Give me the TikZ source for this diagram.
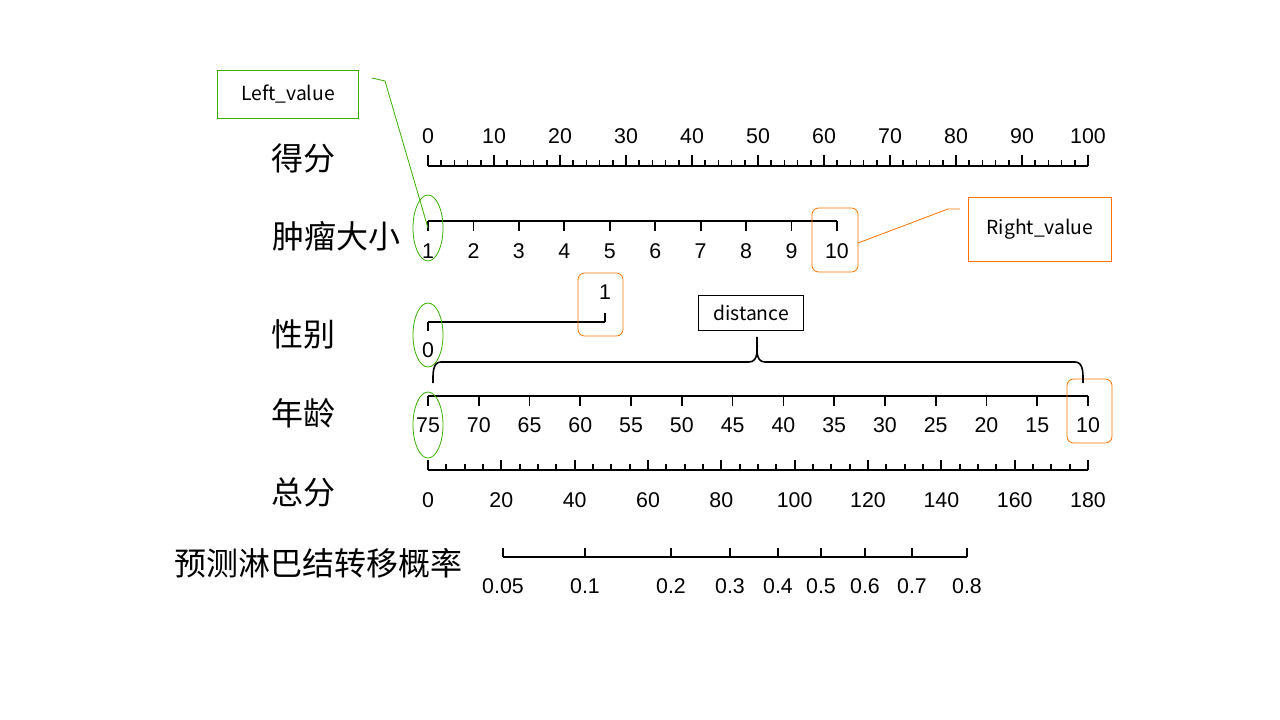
\documentclass[tikz,border=0pt]{standalone}
\usepackage{fontspec}
\setmainfont{Liberation Sans}
\newfontfamily\cjk{Noto Sans CJK SC}
\newfontfamily\cjkm{Noto Sans CJK SC Medium}
\begin{document}
\begin{tikzpicture}[x=0.75pt,y=-0.75pt,line width=1.3pt,
  lab/.style={font=\cjk\fontsize{24}{26}\selectfont},
  num/.style={font=\fontsize{16}{17}\selectfont},
  ann/.style={draw,line width=0.6pt,minimum height=36pt,font=\cjk\fontsize{14.5}{15}\selectfont},
  grn/.style={draw=green!55!black!70!lime,line width=0.6pt},
  org/.style={draw=orange!90!red,line width=0.6pt,rounded corners=5pt}]
\useasboundingbox (0,0) rectangle (1280,720);
% labels
\node[lab] (l1) at (303,158) {得分};
\node[lab] (l2) at (336,236) {肿瘤大小};
\node[lab] (l3) at (303,334) {性别};
\node[lab] (l4) at (303,413) {年龄};
\node[lab] (l5) at (303,492) {总分};
\node[lab] (l6) at (318,563) {预测淋巴结转移概率};
% points
\draw (428,166) -- (1088,166);
\foreach \i in {0,...,50} \draw (428+13.2*\i,166) -- (428+13.2*\i,160);
\foreach \v in {0,10,...,100} {\draw (428+6.6*\v,166) -- (428+6.6*\v,155);
  \node[num] at (428+6.6*\v,136) {\v};}
% tumor size
\draw (428,221) -- (837,221);
\foreach \v in {1,...,10} {\draw (428+45.44*\v-45.44,221) -- (428+45.44*\v-45.44,231);
  \node[num] at (428+45.44*\v-45.44,251) {\v};}
% gender
\draw (428,322) -- (605,322);
\draw (428,322) -- (428,331); \draw (605,322) -- (605,313);
\node[num] at (428,350) {0};
\node[num] at (605,292) {1};
% age
\draw (428,396) -- (1088,396);
\foreach \i [evaluate=\i as \v using int(75-5*\i)] in {0,...,13} {\draw (428+50.77*\i,396) -- (428+50.77*\i,406);
  \node[num] at (428+50.77*\i,425) {\v};}
% total
\draw (428,470) -- (1088,470);
\foreach \i in {0,...,36} \draw (428+18.333*\i,470) -- (428+18.333*\i,464);
\foreach \v in {0,20,...,180} {\draw (428+3.6667*\v,470) -- (428+3.6667*\v,460);
  \node[num] at (428+3.6667*\v,500) {\v};}
% probability
\draw (503,557) -- (967,557);
\foreach \x/\t in {503/0.05,585/0.1,671/0.2,730/0.3,778/0.4,821/0.5,865/0.6,912/0.7,967/0.8} {
  \draw (\x,557) -- (\x,548); \node[num] at (\x,586) {\t};}
% annotations
\node[ann,grn,minimum width=106pt] (lv) at (288,94) {Left\_value};
\node[ann,draw=orange!90!red,minimum width=107pt,minimum height=48pt] (rv) at (1040,229) {Right\_value};
\node[ann,minimum width=79pt,minimum height=26pt] (dist) at (751,313) {distance};
\draw[grn] (428,228) ellipse (15 and 33);
\draw[grn] (428,335) ellipse (15 and 32);
\draw[grn] (428,425) ellipse (15 and 33);
\coordinate (e1) at (428,228);
\draw[grn] (372,78) -- (385,81) -- (e1);
\draw[org] (812,208) rectangle (858,272);
\draw[org] (578,273) rectangle (623,336);
\draw[org] (1067,379) rectangle (1112,443);
\coordinate (r1) at (858,243);
\draw[draw=orange!90!red,line width=0.6pt] (r1) -- (948,209) -- (960,209);
% brace
\draw[line width=1.2pt] (433,383) to[out=90,in=180] (441,362) -- (749,362) to[out=0,in=-90] (757,337)
  to[out=-90,in=180] (765,362) -- (1075,362) to[out=0,in=90] (1083,383);
\end{tikzpicture}
\end{document}
